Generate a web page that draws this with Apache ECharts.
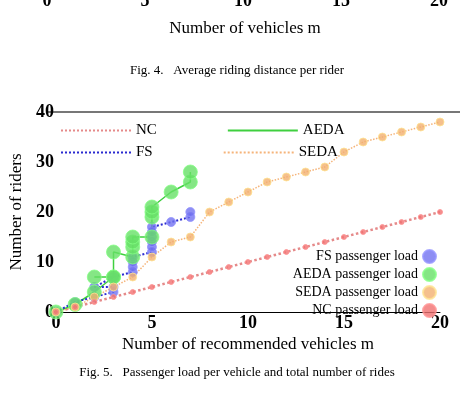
<!DOCTYPE html>
<html><head><meta charset="utf-8">
<script src="https://cdn.jsdelivr.net/npm/echarts@6/dist/echarts.min.js"></script>
<style>html,body{margin:0;background:#fff}#c{width:474px;height:413px}</style>
</head><body><div id="c"></div>
<script>
// values
const ncData = [[0,0],[1,1],[2,2],[3,3],[4,4],[5,5],[6,6],[7,7],[8,8],[9,9],[10,10],[11,11],[12,12],[13,13],[14,14],[15,15],[16,16],[17,17],[18,18],[19,19],[20,20]];
const sedaData = [[0,0],[1,1],[2,3],[3,5],[4,7],[5,11],[6,14],[7,15],[8,20],[9,22],[10,24],[11,26],[12,27],[13,28],[14,29],[15,32],[16,34],[17,35],[18,36],[19,37],[20,38]];
const fsData = [[0,0],[1,2],[2,3],[3,4],[3,5],[2,5],[3,7],[4,8],[4,9],[4,10],[4,11],[5,12],[5,13],[5,14],[5,15],[5,16],[5,17],[6,18],[7,19],[7,20]];
const aedaData = [[0,0],[1,1.5],[2,4],[3,7],[2,7],[3,7],[3,12],[4,11],[4,13],[4,14],[4,15],[5,15],[5,19],[5,20],[5,21],[6,24],[7,26],[7,28]];
const xTicks = [0,5,10,15,20];
const yTicks = [0,10,20,30,40];
const topTicks = ['0','5','10','15','20'];

const serif = 'Liberation Serif';
const chart = echarts.init(document.getElementById('c'));

function lineSeries(name, data, color, type, width) {
  return { name: name, type: 'line', data: data, symbol: 'none', z: 2,
    lineStyle: { color: color, type: type, width: width } };
}
function loadSeries(name, data, color, size) {
  return { name: name, type: 'scatter', data: data, symbolSize: size, z: 3,
    itemStyle: { color: color, borderColor: echarts.color.lift(color, -0.3), borderWidth: 1 } };
}
const lineLegend = (names, top) => ({
  data: names, left: 55, top: top, itemWidth: 70, itemHeight: 10, itemGap: 70,
  itemStyle: { opacity: 0 },
  textStyle: { fontSize: 15, color: '#000', fontFamily: serif }
});

chart.setOption({
  animation: false,
  textStyle: { fontFamily: serif },
  grid: { left: 47, right: 34, top: 112, bottom: 101 },
  xAxis: { type: 'value', min: 0, max: 20, interval: 5,
    name: 'Number of recommended vehicles m', nameLocation: 'middle', nameGap: 24,
    nameTextStyle: { fontSize: 17, color: '#000', fontFamily: serif },
    axisLine: { lineStyle: { color: '#000' } }, axisTick: { show: false }, splitLine: { show: false },
    axisLabel: { fontSize: 18, fontWeight: 'bold', color: '#000', margin: 2,
      formatter: v => xTicks.includes(v) ? v : '' } },
  yAxis: { type: 'value', min: 0, max: 40, interval: 10,
    name: 'Number of riders', nameLocation: 'middle', nameGap: 28,
    nameTextStyle: { fontSize: 17, color: '#000', fontFamily: serif },
    axisLine: { show: false }, axisTick: { show: false },
    splitLine: { show: false },
    axisLabel: { fontSize: 18, fontWeight: 'bold', color: '#000', margin: 2,
      formatter: v => yTicks.includes(v) ? v : '' } },
  legend: [
    lineLegend(['NC', 'AEDA'], 118),
    lineLegend(['FS', 'SEDA'], 140),
    { data: ['FS passenger load', 'AEDA passenger load', 'SEDA passenger load', 'NC passenger load'],
      orient: 'vertical', right: 32, top: 244, align: 'right', itemGap: 3, itemWidth: 13, itemHeight: 13,
      icon: 'circle', textStyle: { fontSize: 14, color: '#000', fontFamily: serif } }
  ],
  graphic: [
    { type: 'line', shape: { x1: 47, y1: 112, x2: 460, y2: 112 }, style: { stroke: '#777', lineWidth: 2 } },
    ...topTicks.map((t, i) => ({ type: 'text', x: 47 + i * 98, y: -8,
      style: { text: t, font: 'bold 18px ' + serif, fill: '#000', align: 'center' } })),
    { type: 'text', x: 245, y: 20, style: { text: 'Number of vehicles m', font: '17px ' + serif, fill: '#000', align: 'center' } },
    { type: 'text', x: 237, y: 64, style: { text: 'Fig. 4.   Average riding distance per rider', font: '13px ' + serif, fill: '#000', align: 'center' } },
    { type: 'text', x: 237, y: 366, style: { text: 'Fig. 5.   Passenger load per vehicle and total number of rides', font: '13px ' + serif, fill: '#000', align: 'center' } }
  ],
  series: [
    lineSeries('NC', ncData, '#e58a8a', 'dotted', 2.5),
    lineSeries('AEDA', aedaData, '#3fcf3f', 'solid', 1.5),
    lineSeries('FS', fsData, '#2a2ad0', 'dotted', 2),
    lineSeries('SEDA', sedaData, '#f5b47a', 'dotted', 1.5),
    loadSeries('FS passenger load', fsData, '#7272f0', 9),
    loadSeries('AEDA passenger load', aedaData, '#66e066', 14),
    loadSeries('SEDA passenger load', sedaData, '#f2b070', 8),
    loadSeries('NC passenger load', ncData, '#f07070', 5)
  ]
});
</script></body></html>
